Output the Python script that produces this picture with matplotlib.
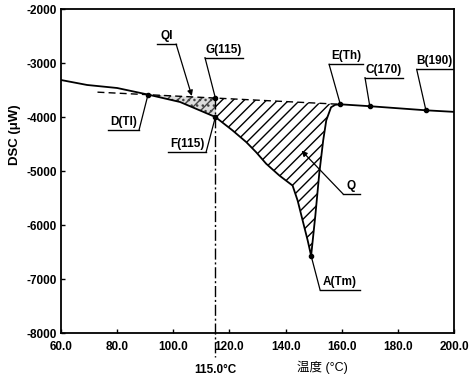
import numpy as np
import matplotlib.pyplot as plt

plt.rcParams['font.family'] = ['Liberation Sans', 'Noto Sans CJK JP', 'DejaVu Sans']
plt.rcParams['axes.unicode_minus'] = False

# DSC curve (temperature in degC, heat flow in uW)
temperature = [60.0, 69.3, 80.0, 91.0, 102.4, 115.0, 121.1, 126.0, 129.5, 133.1,
               137.8, 142.5, 144.3, 146.1, 147.9, 149.1, 150.6, 152.0, 153.4,
               154.5, 156.2, 157.7, 159.5, 170.0, 190.0, 200.0]
dsc = [-3315, -3407, -3463, -3585, -3722, -4000, -4248, -4465, -4651, -4866,
       -5084, -5270, -5548, -5920, -6291, -6570, -5827, -5047, -4434,
       -4062, -3820, -3774, -3765, -3800, -3876, -3905]

# extrapolated baseline (dashed)
base_x = [73.0, 159.5]
base_y = [-3540, -3765]

# named points
pt_names = ['D(Tl)', 'G(115)', 'F(115)', 'E(Th)', 'C(170)', 'B(190)', 'A(Tm)']
pt_x = [91.0, 115.0, 115.0, 159.5, 170.0, 190.0, 149.1]
pt_y = [-3585, -3650, -4000, -3765, -3800, -3876, -6570]

x_ticks = [60, 80, 100, 120, 140, 160, 180, 200]
y_ticks = [-8000, -7000, -6000, -5000, -4000, -3000, -2000]

fig = plt.figure(figsize=(4.74, 3.78), dpi=100)
ax = fig.add_axes([61 / 474, 1 - 333 / 378, 393 / 474, 324 / 378])

t = np.array(temperature)
d = np.array(dsc)
base = np.interp(t, base_x, base_y)

# hatched areas between baseline and curve
ql = (t >= 91.0) & (t <= 115.0)
q = (t >= 115.0) & (t <= 159.5)
ax.fill_between(t[ql], base[ql], d[ql], facecolor='#dddddd', edgecolor='#444444',
                hatch='///...', linewidth=0)
ax.fill_between(t[q], base[q], d[q], facecolor='none', edgecolor='black',
                hatch='///', linewidth=0)

ax.plot(base_x, base_y, color='black', lw=1.0, ls=(0, (5, 3)))
ax.plot(temperature, dsc, color='black', lw=1.3)
ax.plot(pt_x, pt_y, 'o', color='black', ms=3)

# vertical dash-dot line at 115 degC, running below the axis
ax.plot([115, 115], [-3650, -8450], color='black', lw=1.0,
        ls=(0, (8, 2, 1.5, 2)), clip_on=False)
ax.text(115, -0.115, '115.0°C', transform=ax.get_xaxis_transform(),
        ha='center', va='center', fontsize=8.5, fontweight='bold')


def callout(text, ux0, ux1, uy, tx, ty, from_left=True, arrow=False):
    ax.plot([ux0, ux1], [uy, uy], color='black', lw=1.0)
    sx = ux0 if from_left else ux1
    if arrow:
        ax.annotate('', xy=(tx, ty), xytext=(sx, uy),
                    arrowprops=dict(arrowstyle='-|>', color='black', lw=0.9,
                                    mutation_scale=8, shrinkA=0, shrinkB=0))
    else:
        ax.plot([sx, tx], [uy, ty], color='black', lw=0.9)
    ax.text((ux0 + ux1) / 2, uy + 40, text, ha='center', va='bottom',
            fontsize=8.5, fontweight='bold')


callout('Ql', 94.1, 101.0, -2648, 106.6, -3611, from_left=False, arrow=True)
callout('G(115)', 111.3, 124.8, -2902, 115.0, -3650)
callout('D(Tl)', 76.7, 87.8, -4241, 91.0, -3585, from_left=False)
callout('F(115)', 98.1, 111.7, -4648, 115.0, -4000, from_left=False)
callout('E(Th)', 155.5, 167.5, -3024, 159.5, -3765)
callout('C(170)', 168.3, 181.7, -3272, 170.0, -3800)
callout('B(190)', 186.7, 199.6, -3117, 190.0, -3876)
callout('Q', 160.5, 166.5, -5426, 145.7, -4624, arrow=True)
callout('A(Tm)', 152.3, 166.5, -7204, 149.1, -6570)

ax.set_xlim(60, 200)
ax.set_ylim(-8000, -2000)
ax.set_xticks(x_ticks)
ax.set_xticklabels([f'{v:.1f}' for v in x_ticks])
ax.set_yticks(y_ticks)
ax.tick_params(direction='in', length=3, width=1.0)
ax.tick_params(axis='x', labelsize=8.5, pad=6)
ax.tick_params(axis='y', labelsize=8.5, pad=3)
for lab in ax.get_xticklabels() + ax.get_yticklabels():
    lab.set_fontweight('bold')
for s in ax.spines.values():
    s.set_linewidth(1.3)

ax.text(153, -0.105, '温度 (°C)', transform=ax.get_xaxis_transform(),
        ha='center', va='center', fontsize=9)
fig.text(15 / 474, 1 - 135 / 378, 'DSC (μW)', rotation=90, ha='center',
         va='center', fontsize=9.5, fontweight='bold')

fig.savefig('out.png', dpi=100)
